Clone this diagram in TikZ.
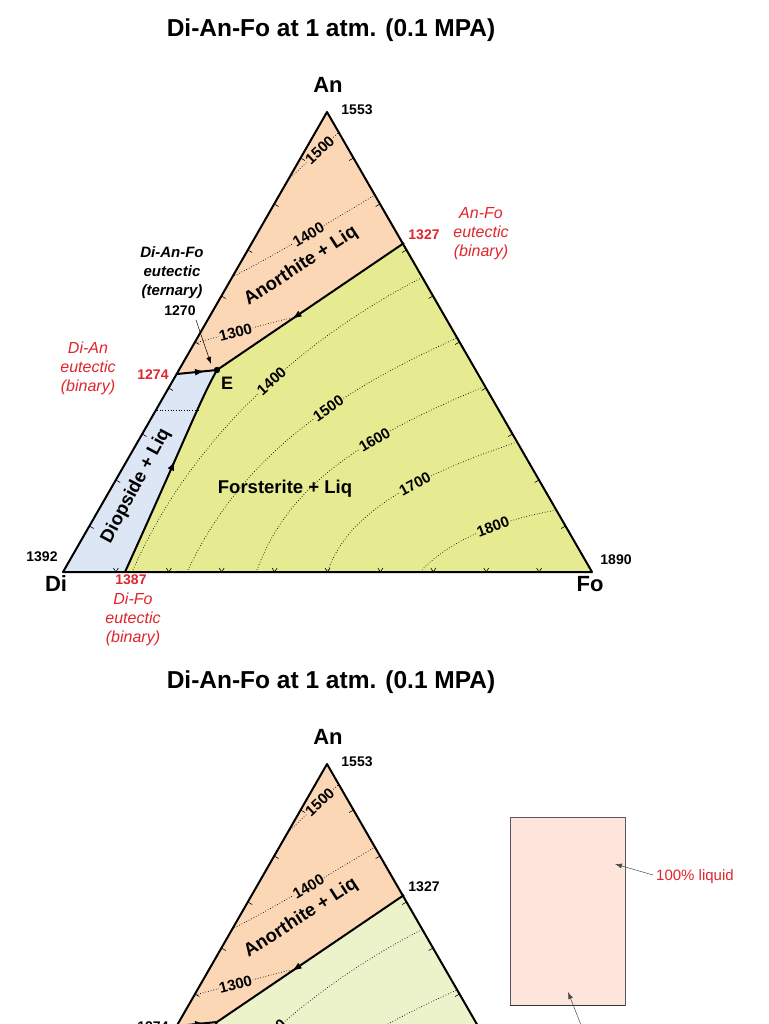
\documentclass[tikz,border=0pt]{standalone}
\usepackage{fontspec}
\setmainfont{Liberation Sans}
\usetikzlibrary{calc,arrows.meta,decorations.markings}
\definecolor{anor}{HTML}{FBD7B6}
\definecolor{fost}{HTML}{E6EB91}
\definecolor{fostl}{HTML}{ECF3CB}
\definecolor{diop}{HTML}{DCE6F4}
\definecolor{redt}{HTML}{E0252D}
\definecolor{boxf}{HTML}{FDE5DC}
\tikzset{
  edge/.style={line width=2pt,line join=round},
  bnd/.style={line width=2pt},
  cont/.style={dotted,line width=0.7pt},
  clab/.style={font=\bfseries\fontsize{15}{15}\selectfont,inner sep=1pt,sloped},
  numl/.style={font=\bfseries\fontsize{14}{14}\selectfont,inner sep=0pt},
  fld/.style={font=\bfseries\fontsize{18.5}{18.5}\selectfont,inner sep=0pt},
  ttl/.style={font=\bfseries\fontsize{24.5}{24.5}\selectfont,inner sep=0pt},
  apex/.style={font=\bfseries\fontsize{22}{22}\selectfont,inner sep=0pt},
  rnote/.style={font=\itshape\fontsize{16}{19}\selectfont,text=redt,align=center,inner sep=0pt},
  midarrow/.style={postaction={decorate},decoration={markings,mark=at position #1 with {\arrow{Latex[length=10pt,width=7pt]}}}},
}
\newcommand\ternplot[1]{%
  \coordinate (An) at (327,112);
  \coordinate (Di) at (63,572);
  \coordinate (Fo) at (592,572);
  \coordinate (P1) at (177,374);
  \coordinate (E) at (217,370);
  \coordinate (P2) at (404,243);
  \coordinate (P3) at (125,572);
  \fill[anor] (An) -- (P2) -- (E) -- (P1) -- cycle;
  \fill[#1] (P2) -- (Fo) -- (P3) .. controls (185,440) and (200,400) .. (E) -- cycle;
  \fill[diop] (P1) -- (E) .. controls (200,400) and (185,440) .. (P3) -- (Di) -- cycle;
  \draw[cont] (290,178) -- node[clab,fill=anor,pos=0.62] (c15) {1500} (338,133);
  \draw[cont] (232,277) .. controls (270,258) and (330,222) .. node[clab,fill=anor,pos=0.55] (c14) {1400} (375,195);
  \draw[cont] (195,343) .. controls (220,336) and (260,326) .. node[clab,fill=anor,pos=0.45] (c13) {1300} (290,318);
  \draw[cont] (157,410) -- (199,410);
  \draw[cont] (133,570) .. controls (190,440) and (300,340) .. node[clab,fill=#1,pos=0.56] (f14) {1400} (423,277);
  \draw[cont] (188,570) .. controls (240,460) and (330,395) .. node[clab,fill=#1,pos=0.62] (f15) {1500} (457,338);
  \draw[cont] (257,570) .. controls (290,480) and (370,435) .. node[clab,fill=#1,pos=0.64] (f16) {1600} (483,387);
  \draw[cont] (328,570) .. controls (350,510) and (420,475) .. node[clab,fill=#1,pos=0.6] (f17) {1700} (517,442);
  \draw[cont] (422,570) .. controls (450,540) and (500,520) .. node[clab,fill=#1,pos=0.6] (f18) {1800} (557,510);
  \foreach \i in {1,...,9}{
    \draw[line width=0.6pt] ($(Di)!\i/10!(Fo)$) ++(-2.5,-4) -- ++(2.5,4) -- ++(2.5,-4);
    \draw[line width=0.6pt] ($(Di)!\i/10!(An)$) -- ($($(Di)!\i/10!(An)$)!5pt!-90:(An)$);
    \draw[line width=0.6pt] ($(Fo)!\i/10!(An)$) -- ($($(Fo)!\i/10!(An)$)!5pt!90:(An)$);
  }
  \draw[bnd,midarrow=0.55] (P3) .. controls (185,440) and (200,400) .. (E);
  \draw[bnd,midarrow=0.6] (P2) -- (E);
  \draw[bnd,midarrow=0.7] (P1) -- (E);
  \draw[edge] (An) -- (Fo) -- (Di) -- cycle;
  \node[fld,rotate=33] (anl) at (301,266) {Anorthite + Liq};
  \node[fld,rotate=62] (dil) at (136,486) {Diopside + Liq};
  \node[fld] (fol) at (285,489) {Forsterite + Liq};
  \node[apex] (anlab) at (328,85) {An};
  \node[numl] (t1553) at (357,110) {1553};
}
\begin{document}
\begin{tikzpicture}[x=1pt,y=-1pt]
\useasboundingbox (0,0) rectangle (768,1024);
\clip (0,0) rectangle (768,1024);
\fill[white] (0,0) rectangle (768,1024);
\node[ttl] (title1) at (331,30) {Di-An-Fo at 1 atm. (0.1 MPA)};
\begin{scope}
\ternplot{fost}
\fill (E) circle (3.2pt);
\node[apex] (dilab) at (56,584) {Di};
\node[apex] (folab) at (590,584) {Fo};
\node[numl,text=redt] (t1327) at (424,235) {1327};
\node[rnote] (anfo) at (481,234) {An-Fo\\eutectic\\(binary)};
\node[numl] (t1890) at (616,560) {1890};
\node[numl] (t1392) at (42,557) {1392};
\node[numl,text=redt] (t1387) at (131,580) {1387};
\node[rnote] (difo) at (133,619) {Di-Fo\\eutectic\\(binary)};
\node[rnote] (dian) at (88,368) {Di-An\\eutectic\\(binary)};
\node[numl,text=redt] (t1274) at (153,375) {1274};
\node[font=\bfseries\itshape\fontsize{15}{19}\selectfont,align=center,inner sep=0pt] (tern) at (172,273) {Di-An-Fo\\eutectic\\(ternary)};
\node[numl] (t1270) at (180,311) {1270};
\coordinate (ea) at (211,364);
\draw[line width=0.5pt,-{Latex[length=7pt,width=5pt]}] (196,320) -- (ea);
\node[font=\bfseries\fontsize{18}{18}\selectfont,inner sep=0pt] (elab) at (227,383) {E};
\end{scope}
\node[ttl] (title2) at (331,682) {Di-An-Fo at 1 atm. (0.1 MPA)};
\begin{scope}[yshift=-652pt]
\ternplot{fostl}
\node[numl] (b1327) at (424,235) {1327};
\node[numl] (b1274) at (153,375) {1274};
\end{scope}
\node[draw=gray!70!black,line width=0.8pt,fill=boxf,minimum width=115pt,minimum height=188pt,inner sep=0pt] (box) at (567.5,911) {};
\draw[line width=1.5pt,black!80] (box.south west) -- (box.south east);
\node[font=\fontsize{15}{15}\selectfont,text=redt,anchor=west,inner sep=0pt] (liq) at (656,877) {100\% liquid};
\coordinate (b1) at (615,864);
\draw[gray!60!black,line width=0.5pt,-{Latex[length=7pt,width=5pt]}] (liq.west) ++(-3,-2) -- (b1);
\coordinate (b2) at (568,992);
\coordinate (b3) at (583,1030);
\draw[gray!60!black,line width=0.5pt,-{Latex[length=7pt,width=5pt]}] (b3) -- (b2);
\end{tikzpicture}
\end{document}
